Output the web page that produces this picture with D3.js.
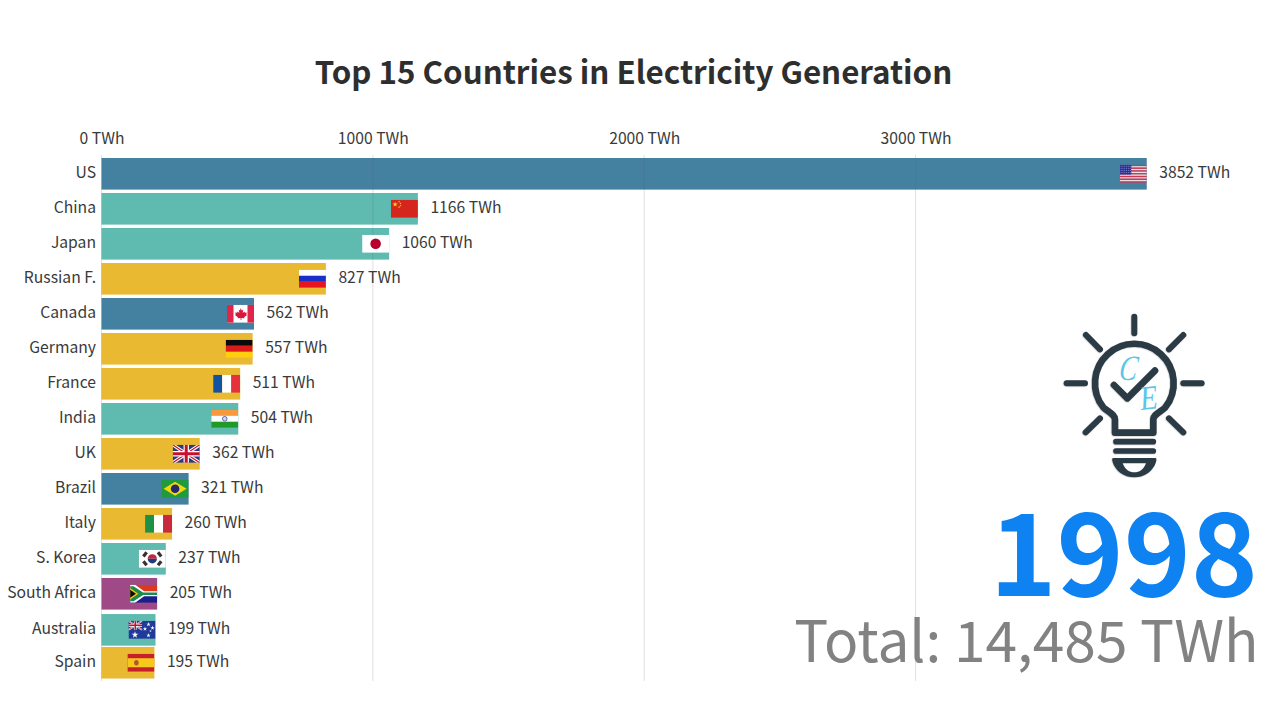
<!DOCTYPE html>
<html>
<head>
<meta charset="utf-8">
<style>
  html, body { margin: 0; padding: 0; background: #fff; }
  svg { display: block; }
  text { font-family: "Noto Sans CJK SC", "Noto Sans", sans-serif; }
</style>
<script src="https://cdnjs.cloudflare.com/ajax/libs/d3/7.8.5/d3.min.js"></script>
</head>
<body>
<svg id="chart" width="1280" height="720"></svg>
<script>
const categories = ["US","China","Japan","Russian F.","Canada","Germany","France","India","UK","Brazil","Italy","S. Korea","South Africa","Australia","Spain"];
const values = [3852,1166,1060,827,562,557,511,504,362,321,260,237,205,199,195];
const regions = ["america","asia","asia","europe","america","europe","europe","asia","europe","america","europe","asia","africa","asia","europe"];
const flagKeys = ["us","cn","jp","ru","ca","de","fr","in","uk","br","it","kr","za","au","es"];
// Fractional ranks: the last two rows are mid-swap in the yearly animation.
const ranks = [0,1,2,3,4,5,6,7,8,9,10,11,12,13.03,13.97];
const tickValues = [0,1000,2000,3000];
const chartTitle = "Top 15 Countries in Electricity Generation";
const yearLabel = "1998";
const totalLabel = "Total: 14,485 TWh";

const regionColor = d3.scaleOrdinal()
  .domain(["america","asia","europe","africa"])
  .range(["#44809f","#5fbab0","#e9b931","#9f4a86"]);

const svg = d3.select("#chart");
const x = d3.scaleLinear().domain([0,1000]).range([101.5,372.85]);
const y = d3.scaleLinear().domain([0,1]).range([158,193]);
const barH = 31.6, flagW = 27, flagH = 18;
const labelSize = 15.7;
const rows = categories.map((name,i)=>({name,value:values[i],region:regions[i],flag:flagKeys[i],rank:ranks[i]}));

svg.append("text").attr("x",633.5).attr("y",84).attr("text-anchor","middle")
  .attr("font-size",31.3).attr("font-weight",700).attr("fill","#2e2e2e").text(chartTitle);

// Bars sit beneath the axis so the grid shows faintly through them.
const barG = svg.append("g");
barG.selectAll("rect").data(rows).join("rect")
  .attr("x",x(0)).attr("y",d=>y(d.rank))
  .attr("width",d=>x(d.value)-x(0)).attr("height",barH)
  .attr("fill",d=>regionColor(d.region));

const axis = d3.axisTop(x).tickValues(tickValues).tickFormat(d=>d+" TWh").tickSize(0).tickPadding(0);
const axisG = svg.append("g").attr("transform","translate(0,144)").call(axis);
axisG.select(".domain").remove();
axisG.selectAll("text").attr("font-size",labelSize).attr("fill","#3a3a3a").style("font-family",'"Noto Sans CJK SC"');
axisG.selectAll("line.grid").data(tickValues).join("line").attr("class","grid")
  .attr("x1",d=>x(d)).attr("x2",d=>x(d)).attr("y1",11).attr("y2",537)
  .attr("stroke","#5a6470").attr("stroke-opacity",0.2).attr("stroke-width",1);

const labelG = svg.append("g").attr("font-size",labelSize).attr("fill","#3a3a3a");
labelG.selectAll("text.cat").data(rows).join("text").attr("class","cat")
  .attr("x",96).attr("y",d=>y(d.rank)+20).attr("text-anchor","end").text(d=>d.name);
labelG.selectAll("text.val").data(rows).join("text").attr("class","val")
  .attr("x",d=>x(d.value)+12.5).attr("y",d=>y(d.rank)+20).text(d=>d.value+" TWh");

// --- flag painters, each working in a 27x18 box ---
function box(g,x0,y0,w,h,c){ g.append("rect").attr("x",x0).attr("y",y0).attr("width",w).attr("height",h).attr("fill",c); }
function star(g,cx,cy,size,c){ g.append("path").attr("d",d3.symbol(d3.symbolStar,size)()).attr("transform",`translate(${cx},${cy})`).attr("fill",c); }
function hBands(g,cols){ cols.forEach((c,i)=>box(g,0,i*flagH/cols.length,flagW,flagH/cols.length,c)); }
function vBands(g,cols){ cols.forEach((c,i)=>box(g,i*flagW/cols.length,0,flagW/cols.length,flagH,c)); }
function union(g,w,h){
  box(g,0,0,w,h,"#2a3a7c");
  const l=(a,b,c,d,col,sw)=>g.append("line").attr("x1",a).attr("y1",b).attr("x2",c).attr("y2",d).attr("stroke",col).attr("stroke-width",sw);
  const k=h/18;
  l(0,0,w,h,"#fff",3.4*k); l(w,0,0,h,"#fff",3.4*k);
  l(0,0,w,h,"#c8102e",1.2*k); l(w,0,0,h,"#c8102e",1.2*k);
  l(w/2,0,w/2,h,"#fff",5.4*k); l(0,h/2,w,h/2,"#fff",5.4*k);
  l(w/2,0,w/2,h,"#c8102e",3*k); l(0,h/2,w,h/2,"#c8102e",3*k);
}
const flagPainters = {
  us(g){
    d3.range(13).forEach(i=>box(g,0,i*flagH/13,flagW,flagH/13,i%2?"#f6dfe2":"#d3344f"));
    box(g,0,0,11.5,9.7,"#2c2f96");
    d3.range(4).forEach(r=>d3.range(6).forEach(c=>box(g,1+c*1.8,1+r*2.1,.8,.8,"#9fa3dc")));
  },
  cn(g){
    box(g,0,0,flagW,flagH,"#d5261e");
    star(g,4.2,4.5,9,"#f5d80f");
    [[8.2,1.8],[9.6,3.6],[9.6,5.8],[8.2,7.4]].forEach(p=>star(g,p[0],p[1],1.4,"#f5d80f"));
  },
  jp(g){ box(g,0,0,flagW,flagH,"#fff"); g.append("circle").attr("cx",13.5).attr("cy",9).attr("r",5.3).attr("fill","#b8002f"); },
  ru(g){ hBands(g,["#fff","#1a2fc8","#e8141e"]); },
  ca(g){
    box(g,0,0,flagW,flagH,"#fff");
    box(g,0,0,6.5,flagH,"#e0244a"); box(g,20.5,0,6.5,flagH,"#e0244a");
    g.append("path").attr("d","M13.5 3.2l1.3 2.4 1.4-.7-.5 3.2 1.7-1.3.5 1.2 1.9-.3-.6 1.9.9.5-3 2.3.3 1.1-3-.4v2.2h-.8v-2.2l-3 .4.3-1.1-3-2.3.9-.5-.6-1.9 1.9.3.5-1.2 1.7 1.3-.5-3.2 1.4.7z").attr("fill","#d8173c");
  },
  de(g){ hBands(g,["#0a0a0a","#dd1a1a","#ffcf10"]); },
  fr(g){ vBands(g,["#12529e","#fff","#e6303c"]); },
  in(g){
    hBands(g,["#f79a3c","#fff","#1f9a28"]);
    g.append("circle").attr("cx",13.5).attr("cy",9).attr("r",2.3).attr("fill","#d9d6ec").attr("stroke","#44449a").attr("stroke-width",.8);
  },
  uk(g){ union(g,flagW,flagH); },
  br(g){
    box(g,0,0,flagW,flagH,"#1f9a3c");
    g.append("path").attr("d","M13.5 2L25 9 13.5 16 2 9z").attr("fill","#f2d70e");
    g.append("circle").attr("cx",13.5).attr("cy",9).attr("r",4.3).attr("fill","#26286e");
  },
  it(g){ vBands(g,["#1f9147","#fff","#c62a3c"]); },
  kr(g){
    box(g,0,0,flagW,flagH,"#fff");
    g.append("path").attr("d","M8.9 9a4.6 4.6 0 0 1 9.2 0z").attr("fill","#c8243c");
    g.append("path").attr("d","M8.9 9a4.6 4.6 0 0 0 9.2 0z").attr("fill","#1c3d82");
    [[6.2,4.6,38],[20.8,4.6,-38],[6.2,13.4,-38],[20.8,13.4,38]].forEach(t=>{
      g.append("rect").attr("x",-2.6).attr("y",-1.6).attr("width",5.2).attr("height",3.2).attr("fill","#333")
        .attr("transform",`translate(${t[0]},${t[1]}) rotate(${t[2]+90})`);
    });
  },
  za(g){
    box(g,0,0,flagW,flagH/2,"#dc3a20");
    box(g,0,flagH/2,flagW,flagH/2,"#1a1f8c");
    g.append("path").attr("d","M0 0H5L14 6.5H27V11.5H14L5 18H0z").attr("fill","#fff");
    g.append("path").attr("d","M0 1.5H3.4L13 7.8H27V10.2H13L3.4 16.5H0z").attr("fill","#1f8a4c");
    g.append("path").attr("d","M0 3.2L8.2 9 0 14.8z").attr("fill","#f4c21a");
    g.append("path").attr("d","M0 5L5.8 9 0 13z").attr("fill","#0a0a0a");
  },
  au(g){
    box(g,0,0,flagW,flagH,"#1f3a9a");
    union(g,13.5,9);
    [[6.5,14,14],[20,3.5,6],[20,14.5,6],[16.5,8,6],[24,7,6],[22,10.2,2]].forEach(s=>star(g,s[0],s[1],s[2],"#fff"));
  },
  es(g){
    box(g,0,0,flagW,flagH,"#c8202a");
    box(g,0,4.5,flagW,9,"#f6c81c");
    g.append("ellipse").attr("cx",9).attr("cy",9).attr("rx",2.3).attr("ry",2.7).attr("fill","#b4552a");
  }
};
const defs = svg.append("defs");
defs.append("clipPath").attr("id","flag-clip").append("rect").attr("width",flagW).attr("height",flagH);
svg.append("g").selectAll("g").data(rows).join("g")
  .attr("transform",d=>`translate(${x(d.value)-flagW},${y(d.rank)+(barH-flagH)/2})`)
  .attr("clip-path","url(#flag-clip)")
  .each(function(d){ flagPainters[d.flag](d3.select(this)); });

// --- light bulb emblem ---
const ink = "#2c3a44";
const shadow = defs.append("filter").attr("id","bulb-shadow").attr("x","-10%").attr("y","-10%").attr("width","120%").attr("height","120%");
shadow.append("feDropShadow").attr("dx",-1.2).attr("dy",1.2).attr("stdDeviation",0.8).attr("flood-color","#000").attr("flood-opacity",0.3);
const bulb = svg.append("g").attr("transform","translate(1040,300) scale(0.3333)")
  .attr("fill","none").attr("stroke",ink).attr("stroke-linecap","round").attr("stroke-linejoin","round")
  .attr("filter","url(#bulb-shadow)");
[[283,50,283,100],[430,250,485,250],[80,250,135,250],[138,105,180,148],[430,105,387,148],[180,355,137,397],[387,355,430,397]]
  .forEach(r=>bulb.append("line").attr("x1",r[0]).attr("y1",r[1]).attr("x2",r[2]).attr("y2",r[3]).attr("stroke-width",18));
bulb.append("path").attr("stroke-width",20)
  .attr("d","M225 398V358C225 344 205 336 190 322A118 118 0 1 1 376 322C361 336 340 344 340 358V398Z");
bulb.append("path").attr("stroke-width",20).attr("d","M222 255L262 295L345 212");
bulb.append("path").attr("stroke-width",17).attr("d","M228 425H340M228 453H340");
bulb.append("path").attr("stroke","none").attr("fill",ink)
  .attr("d","M220 474H346C350 474 350 480 348 486C340 512 315 532 283 532C251 532 226 512 218 486C216 480 216 474 220 474Z");
bulb.append("path").attr("stroke","none").attr("fill","#fff")
  .attr("d","M248 490H318C310 510 298 517 283 517C268 517 256 510 248 490Z");
// Hand-lettered initials inside the bulb, squeezed and slanted from a serif italic.
const letters = svg.append("g").attr("fill","#5cc6e8").attr("font-style","italic").attr("font-size",34);
letters.append("text").attr("transform","translate(1118,380) skewX(-8) scale(0.8,1.05)").text("C").style("font-family",'"Liberation Serif"');
letters.append("text").attr("transform","translate(1141,410) rotate(-6) scale(0.85,1)").text("E").style("font-family",'"Liberation Serif"');

// --- year and running total ---
svg.append("text").attr("x",1258).attr("y",596).attr("text-anchor","end")
  .attr("font-size",113.8).attr("font-weight",700).attr("fill","#0f82f2").text(yearLabel);
svg.append("text").attr("x",1258.5).attr("y",662).attr("text-anchor","end")
  .attr("font-size",56.8).attr("fill","#828282").text(totalLabel);
</script>
</body>
</html>
